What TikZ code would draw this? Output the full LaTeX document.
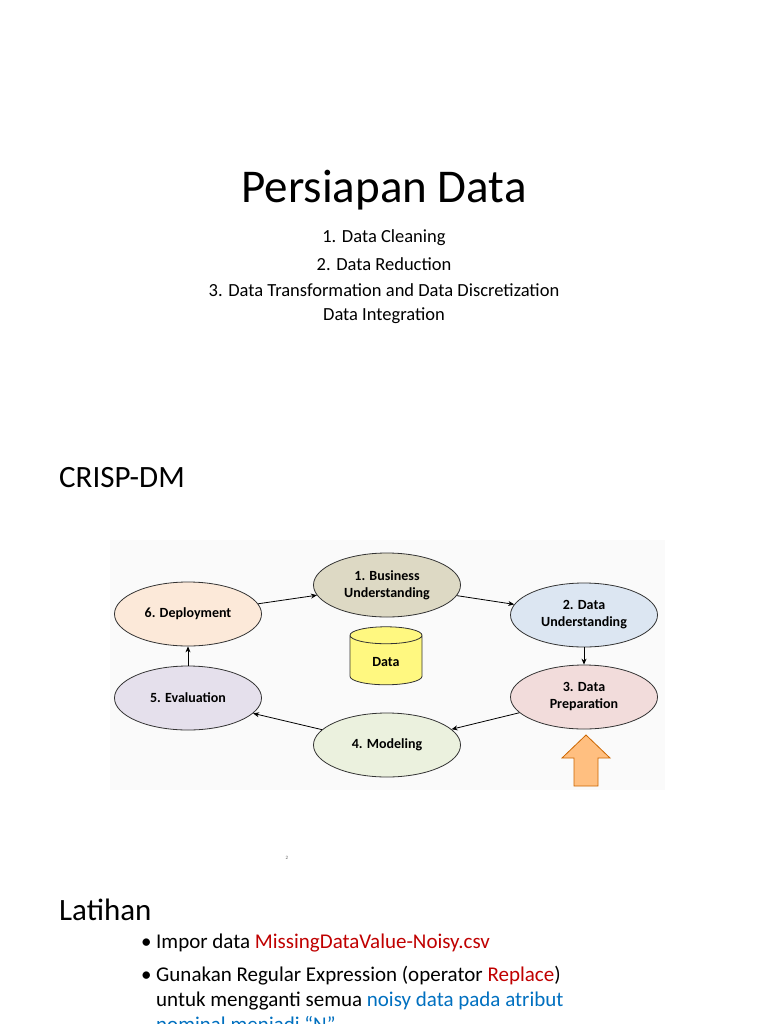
\documentclass[tikz,border=0pt]{standalone}
\usepackage{fontspec}
\setmainfont{Carlito}
\usetikzlibrary{shapes.geometric,arrows.meta}
\definecolor{cred}{HTML}{C00000}
\definecolor{cblue}{HTML}{0070C0}
\definecolor{f6}{HTML}{FCE9D9}
\definecolor{f1}{HTML}{DDD9C4}
\definecolor{f2}{HTML}{DCE6F2}
\definecolor{f3}{HTML}{F2DCDB}
\definecolor{f4}{HTML}{EBF1DE}
\definecolor{f5}{HTML}{E5E0EC}
\tikzset{
  ph/.style={draw=black!80,thick,ellipse,minimum width=147pt,minimum height=64pt,inner sep=0pt,align=center,font=\fontsize{14}{17}\selectfont\bfseries},
  conn/.style={-{Stealth[length=6pt,width=5pt]},thick},
  txt/.style={anchor=base west,inner sep=0pt,font=\fontsize{21}{24}\selectfont},
  item/.style={font=\fontsize{18.5}{20}\selectfont}
}
\begin{document}
\begin{tikzpicture}[x=1pt,y=-1pt]
\useasboundingbox (0,0) rectangle (768,1024);
\fill[white] (0,0) rectangle (768,1024);
\fill[black!2] (110,540) rectangle (665,790);
\node[font=\fontsize{47}{50}\selectfont] (title) at (384,190) {Persiapan Data};
\node[item] (i1) at (384,238) {1. Data Cleaning};
\node[item] (i2) at (384,264) {2. Data Reduction};
\node[item] (i3) at (384,290) {3. Data Transformation and Data Discretization};
\node[item] (i4) at (384,316) {Data Integration};
\node[anchor=west,inner sep=0pt,font=\fontsize{31}{34}\selectfont] (crisp) at (59,478) {CRISP-DM};
\node[ph,fill=f6] (n6) at (188,614) {6. Deployment};
\node[ph,fill=f1] (n1) at (387,585) {1. Business\\Understanding};
\node[ph,fill=f2] (n2) at (584,615) {2. Data\\Understanding};
\node[ph,fill=f3] (n3) at (584,697) {3. Data\\Preparation};
\node[ph,fill=f4] (n4) at (387,745) {4. Modeling};
\node[ph,fill=f5] (n5) at (188,698) {5. Evaluation};
\node[cylinder,shape border rotate=90,draw=black!80,thick,fill=yellow!50,minimum width=72pt,minimum height=58pt,aspect=0.5,font=\fontsize{14}{17}\selectfont\bfseries] (data) at (386,662) {Data};
\draw[conn] (n6) -- (n1);
\draw[conn] (n1) -- (n2);
\draw[conn] (n2) -- (n3);
\draw[conn] (n3) -- (n4);
\draw[conn] (n4) -- (n5);
\draw[conn] (n5) -- (n6);
\draw[draw=orange!80!black,fill=orange!50,thick] (586,735) -- (610,758) -- (598,758) -- (598,786) -- (574,786) -- (574,758) -- (562,758) -- cycle;
\node[font=\fontsize{5}{6}\selectfont,text=black!60] (pg) at (287,858) {2};
\node[anchor=west,inner sep=0pt,font=\fontsize{31}{34}\selectfont] (lat) at (59,910) {Latihan};
\node[txt] (b1) at (141,948) {\textbullet};
\node[txt] (t1) at (156,948) {Impor data \textcolor{cred}{MissingDataValue-Noisy.csv}};
\node[txt] (b2) at (141,981) {\textbullet};
\node[txt] (t2) at (156,981) {Gunakan Regular Expression (operator \textcolor{cred}{Replace})};
\node[txt] (t3) at (156,1006) {untuk mengganti semua \textcolor{cblue}{noisy data pada atribut}};
\node[txt] (t4) at (156,1031) {\textcolor{cblue}{nominal menjadi “N”}};
\end{tikzpicture}
\end{document}
